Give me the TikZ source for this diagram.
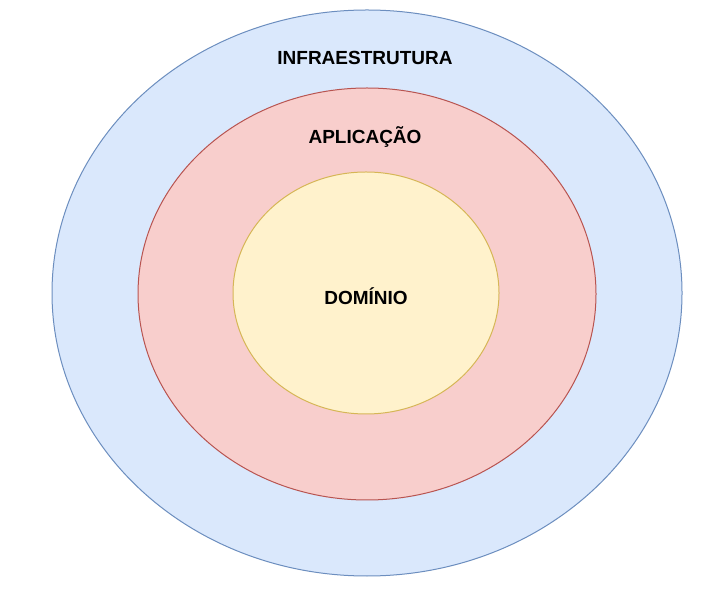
\documentclass[tikz,border=0pt]{standalone}
\usepackage{fontspec}
\setmainfont{Liberation Sans}
\begin{document}
\begin{tikzpicture}[x=1pt,y=1pt,
  ring/.style={line width=1pt},
  lbl/.style={font=\bfseries\fontsize{19}{22}\selectfont}]
\useasboundingbox (0,0) rectangle (727,591);
\fill[white] (0,0) rectangle (727,591);
\draw[ring,fill={rgb,255:red,218;green,232;blue,252},draw={rgb,255:red,108;green,142;blue,191}] (367,298) ellipse [x radius=315, y radius=283];
\draw[ring,fill={rgb,255:red,248;green,206;blue,204},draw={rgb,255:red,184;green,84;blue,80}] (367,297) ellipse [x radius=229, y radius=206];
\draw[ring,fill={rgb,255:red,255;green,242;blue,204},draw={rgb,255:red,214;green,182;blue,86}] (366,298) ellipse [x radius=133, y radius=121];
\node[lbl] (infra) at (365,533) {INFRAESTRUTURA};
\node[lbl] (app) at (365,454) {APLICAÇÃO};
\node[lbl] (dom) at (366,295) {DOMÍNIO};
\end{tikzpicture}
\end{document}
